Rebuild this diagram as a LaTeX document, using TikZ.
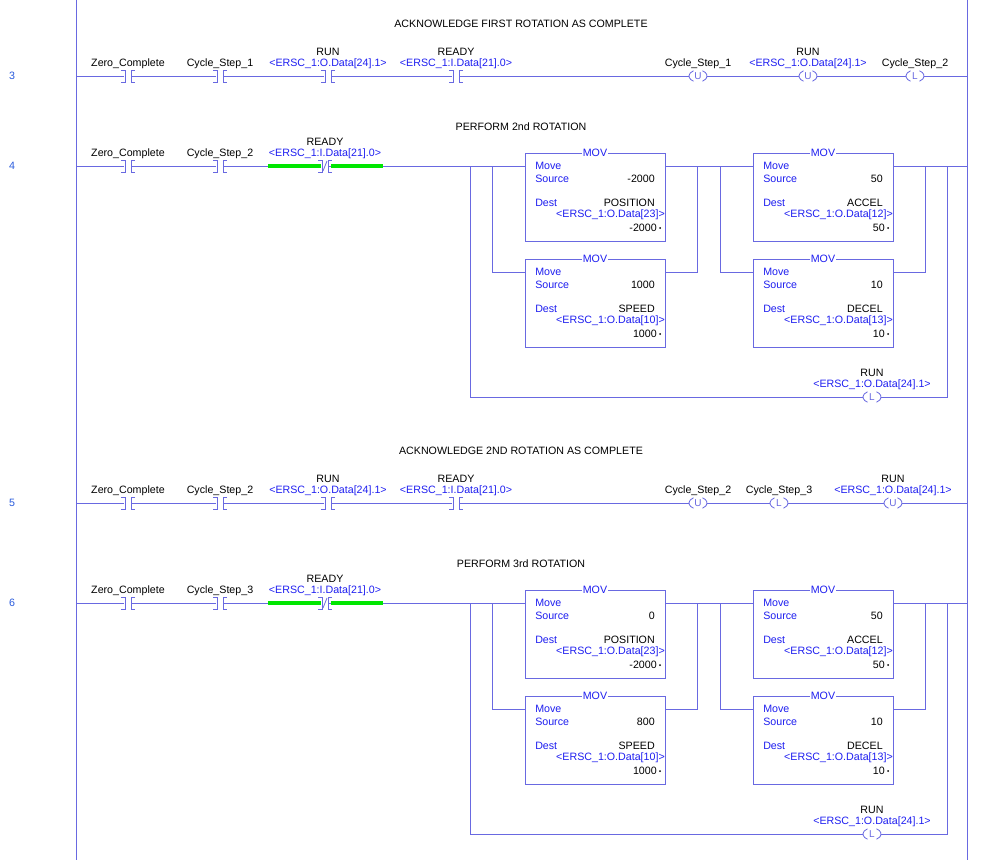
\documentclass[tikz,border=0pt]{standalone}
\usepackage{fontspec}
\setmainfont{Liberation Sans}
\usepackage{tikz}
\definecolor{wire}{RGB}{105,105,225}
\definecolor{tagblue}{RGB}{30,30,240}
\definecolor{rungno}{RGB}{40,90,220}
\definecolor{okgreen}{RGB}{0,230,0}
\tikzset{
    lbl/.style={font=\fontsize{8}{8.5}\selectfont, inner sep=0pt, text=black},
    tag/.style={lbl, text=tagblue},
    wireline/.style={color=wire, line width=.6pt}
}
% Beschriftung: Name, Adresse, x, y
\newcommand{\tagtext}[4]{
    \if\relax\detokenize{#2}\relax
        \node[lbl] at (#3,#4-12) {#1};
    \else
        \node[lbl] at (#3,#4-24) {#1};
        \node[tag] at (#3,#4-12) {#2};
    \fi
}
% Kontakt: Name, Adresse, x, y
\newcommand{\xic}[4]{
    \fill[white] (#3-4,#4-7) rectangle (#3+4,#4+7);
    \draw[wireline] (#3-7,#4-6) -- (#3-3,#4-6) -- (#3-3,#4+6) -- (#3-7,#4+6);
    \draw[wireline] (#3+7,#4-6) -- (#3+3,#4-6) -- (#3+3,#4+6) -- (#3+7,#4+6);
    \tagtext{#1}{#2}{#3}{#4}
}
% Spule: Buchstabe, Name, Adresse, x, y
\newcommand{\coil}[5]{
    \fill[white] (#4,#5) ellipse (9 and 6);
    \draw[wireline] (#4,#5) +(120:9 and 6) arc (120:240:9 and 6);
    \draw[wireline] (#4,#5) +(-60:9 and 6) arc (-60:60:9 and 6);
    \node[lbl, text=wire, font=\fontsize{7.5}{7.5}\selectfont] at (#4,#5) {#1};
    \tagtext{#2}{#3}{#4}{#5}
}
% MOV-Baustein: Name, x, y, Quelle, Ziel, Adresse, Wert
\newcommand{\movbox}[7]{
    \draw[wireline, fill=white] (#2,#3) rectangle (#2+140,#3+88);
    \node[tag, fill=white, inner xsep=1pt] (#1) at (#2+70,#3) {MOV};
    \node[tag, anchor=west] at (#2+10,#3+13) {Move};
    \node[tag, anchor=west] at (#2+10,#3+26) {Source};
    \node[lbl, anchor=east] at (#2+130,#3+26) {#4};
    \node[tag, anchor=west] at (#2+10,#3+50) {Dest};
    \node[lbl, anchor=east] at (#2+130,#3+50) {#5};
    \node[tag, anchor=east] at (#2+140,#3+62) {#6};
    \node[lbl, anchor=east] at (#2+132,#3+75) {#7};
    \fill[black] (#2+135,#3+75) circle (1);
}
\newcommand{\xio}[4]{
    \draw[okgreen, line width=3pt] (#3-57,#4) -- (#3-4,#4);
    \draw[okgreen, line width=3pt] (#3+6,#4) -- (#3+58,#4);
    \xic{#1}{#2}{#3}{#4}
    \draw[wireline] (#3-2,#4+5) -- (#3+2,#4-5);
}
\newcommand{\runaddr}{<ERSC\_1:O.Data[24].1>}
\newcommand{\readyaddr}{<ERSC\_1:I.Data[21].0>}

\begin{document}
\begin{tikzpicture}[x=.75pt, y=-.75pt]
    \useasboundingbox (0,0) rectangle (1000,860);
    % Schienen.
    \draw[wireline] (76,0) -- (76,860);
    \draw[wireline] (967,0) -- (967,860);

    % Strompfad 3.
    \node[lbl] (c3) at (521,24) {ACKNOWLEDGE FIRST ROTATION AS COMPLETE};
    \node[lbl, text=rungno] (r3) at (12,76) {3};
    \draw[wireline] (76,76) -- (967,76);
    \xic{Zero\_Complete}{}{128}{76}
    \xic{Cycle\_Step\_1}{}{220}{76}
    \xic{RUN}{\runaddr}{328}{76}
    \xic{READY}{\readyaddr}{456}{76}
    \coil{U}{Cycle\_Step\_1}{}{698}{76}
    \coil{U}{RUN}{\runaddr}{808}{76}
    \coil{L}{Cycle\_Step\_2}{}{915}{76}

    % Strompfad 4 und 6.
    \foreach \r/\y/\txt/\src/\spd in {4/166/2nd/-2000/1000, 6/603/3rd/0/800}
    {
        \node[lbl] at (521,\y-39) {PERFORM \txt\ ROTATION};
        \node[lbl, text=rungno] at (12,\y) {\r};
        \draw[wireline] (76,\y) -- (967,\y);
        \draw[wireline] (470,\y) -- (470,\y+231) -- (947,\y+231) -- (947,\y);
        \draw[wireline] (492,\y) -- (492,\y+106) -- (525,\y+106);
        \draw[wireline] (665,\y+106) -- (697,\y+106) -- (697,\y);
        \draw[wireline] (720,\y) -- (720,\y+106) -- (753,\y+106);
        \draw[wireline] (893,\y+106) -- (925,\y+106) -- (925,\y);
        \xic{Zero\_Complete}{}{128}{\y}
        \xic{Cycle\_Step\_\the\numexpr\r/2\relax}{}{220}{\y}
        \xio{READY}{\readyaddr}{325}{\y}
        \movbox{pos\r}{525}{\y-13}{\src}{POSITION}{<ERSC\_1:O.Data[23]>}{-2000}
        \movbox{spd\r}{525}{\y+93}{\spd}{SPEED}{<ERSC\_1:O.Data[10]>}{1000}
        \movbox{acc\r}{753}{\y-13}{50}{ACCEL}{<ERSC\_1:O.Data[12]>}{50}
        \movbox{dec\r}{753}{\y+93}{10}{DECEL}{<ERSC\_1:O.Data[13]>}{10}
        \coil{L}{RUN}{\runaddr}{872}{\y+231}
    }

    % Strompfad 5.
    \node[lbl] (c5) at (521,451) {ACKNOWLEDGE 2ND ROTATION AS COMPLETE};
    \node[lbl, text=rungno] (r5) at (12,503) {5};
    \draw[wireline] (76,503) -- (967,503);
    \xic{Zero\_Complete}{}{128}{503}
    \xic{Cycle\_Step\_2}{}{220}{503}
    \xic{RUN}{\runaddr}{328}{503}
    \xic{READY}{\readyaddr}{456}{503}
    \coil{U}{Cycle\_Step\_2}{}{698}{503}
    \coil{L}{Cycle\_Step\_3}{}{779}{503}
    \coil{U}{RUN}{\runaddr}{893}{503}
\end{tikzpicture}
\end{document}
